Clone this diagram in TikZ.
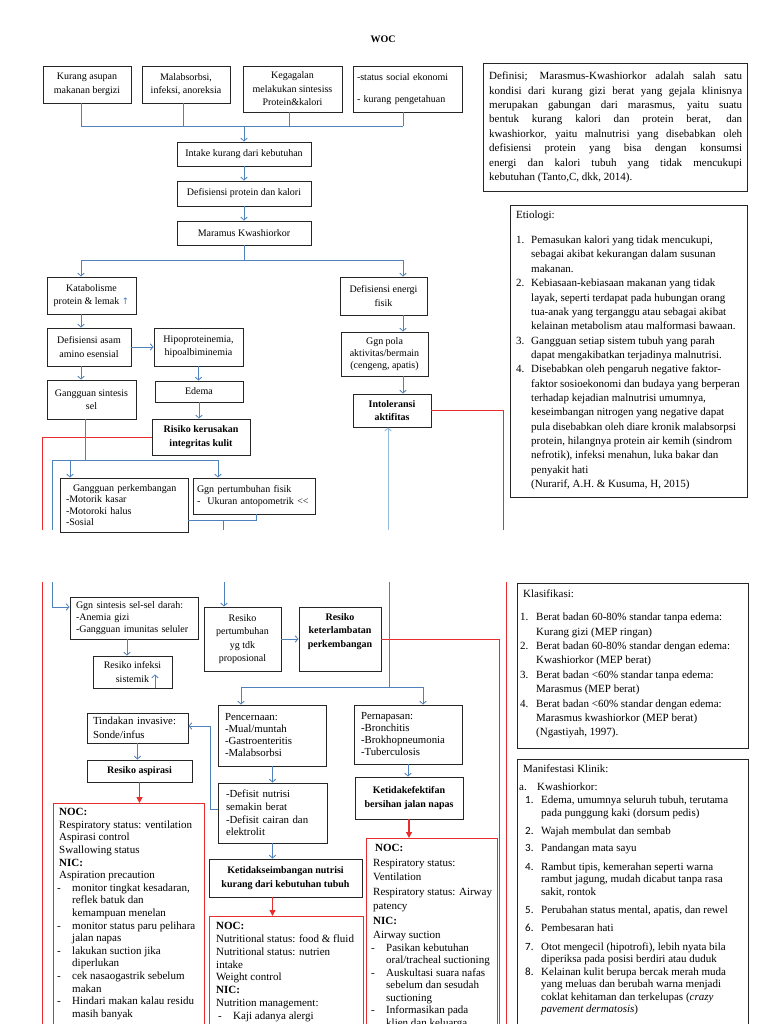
\documentclass[tikz,border=0pt]{standalone}
\usepackage{fontspec}
\setmainfont{Liberation Serif}
\newfontfamily\calib{Carlito}
\newfontfamily\dejav{DejaVu Sans}
\usetikzlibrary{arrows.meta}
\definecolor{conblue}{RGB}{79,129,189}
\definecolor{lblue}{RGB}{150,185,222}
\definecolor{redc}{RGB}{232,45,45}
\newcommand\nmb[1]{\makebox[15pt][l]{#1}}
\newcommand\nmk[1]{\makebox[16pt][l]{#1}}
\newcommand\dsh{\makebox[15pt][l]{-}}
\newcommand\fsf{\makebox[253pt][s]}
\begin{document}
\begin{tikzpicture}[x=1pt,y=-1pt,
  fb/.style={draw=black!85, line width=0.8pt, inner sep=0pt, align=center, font=\fontsize{10}{13.5}\selectfont},
  fbb/.style={fb, font=\fontsize{10}{13.5}\selectfont\bfseries},
  fbl/.style={draw=black!85, line width=0.8pt, inner ysep=0pt, align=left},
  kbox/.style={draw=black!85, line width=0.8pt, inner sep=0pt, anchor=north west},
  rbox/.style={draw=redc, line width=0.9pt, inner sep=0pt, anchor=north west},
  txt/.style={inner sep=0pt, anchor=north west},
  ttl/.style={inner sep=0pt, anchor=base west, font=\fontsize{11}{14.4}\selectfont},
  bl/.style={draw=conblue, line width=0.8pt},
  ba/.style={bl, -{Straight Barb[length=3pt,width=6.5pt]}},
  lba/.style={draw=lblue, line width=0.9pt, -{Straight Barb[length=3pt,width=6.5pt]}},
  rl/.style={draw=redc, line width=0.9pt},
  ra/.style={draw=redc, line width=1.3pt, -{Triangle[length=6pt,width=6pt]}}
]
\useasboundingbox (0,0) rectangle (768,1024);
\fill[white] (0,0) rectangle (768,1024);
\clip (0,0) rectangle (768,1024);

% ---------------- page 1 ----------------
\node[inner sep=0pt, font=\fontsize{10}{12}\selectfont\bfseries] (woc) at (383,39) {WOC};

\node[fb, minimum width=88, minimum height=37] (b1) at (87,84.5) {Kurang asupan\\makanan bergizi};
\node[fb, minimum width=88, minimum height=37] (b2) at (186,84.5) {Malabsorbsi,\\infeksi, anoreksia};
\node[fb, minimum width=99, minimum height=46] (b3) at (292.5,89) {Kegagalan\\melakukan sintesiss\\Protein\&kalori};
\node[fbl, text width=101, inner xsep=4, minimum height=46, font=\fontsize{10}{13.5}\selectfont] (b4) at (407.5,89) {-status social ekonomi\\[8pt]- kurang pengetahuan};

\node[fb, minimum width=134, minimum height=24] (intake) at (244,154) {Intake kurang dari kebutuhan};
\node[fb, minimum width=134, minimum height=25] (defpk) at (244,193.5) {Defisiensi protein dan kalori};
\node[fb, minimum width=134, minimum height=24] (maram) at (244,233) {Maramus Kwashiorkor};

\node[fb, minimum width=89, minimum height=37] (katab) at (91.5,295.5) {Katabolisme\\protein \& lemak {\color{conblue}\dejav\fontsize{9}{10}\selectfont ↑}};
\node[fb, minimum width=87, minimum height=38] (defen) at (383.5,296) {Defisiensi energi\\fisik};
\node[fb, minimum width=84, minimum height=38] (asam) at (89,347) {Defisiensi asam\\amino esensial};
\node[fb, minimum width=89, minimum height=38] (hipo) at (198.5,347) {Hipoproteinemia,\\hipoalbiminemia};
\node[fb, minimum width=89, minimum height=39] (gss) at (91.5,399.5) {Gangguan sintesis\\sel};
\node[fb, minimum width=88, minimum height=21] (edema) at (199,391.5) {Edema};
\node[fbb, minimum width=98, minimum height=36] (risk) at (201,437) {Risiko kerusakan\\integritas kulit};
\node[fb, minimum width=87, minimum height=44, font=\fontsize{10}{12}\selectfont] (ggnpola) at (384.5,354) {Ggn pola\\aktivitas/bermain\\(cengeng, apatis)};
\node[fbb, minimum width=78, minimum height=33] (intol) at (392,410.5) {Intoleransi\\aktifitas};
\node[fbl, text width=116, inner xsep=6, minimum height=54, font=\fontsize{10}{11.5}\selectfont] (gp) at (124,505) {\hspace*{7pt}Gangguan perkembangan\\-Motorik kasar\\-Motoroki halus\\-Sosial};
\node[fbl, text width=114, inner xsep=4, minimum height=36, font=\fontsize{10}{11.5}\selectfont] (pf) at (254,496) {Ggn pertumbuhan fisik\\-\hspace{7pt}Ukuran antopometrik <\kern0pt<};

% connectors page 1
\coordinate (j1) at (81,126); \coordinate (j2) at (183,126);
\coordinate (j3) at (289,126); \coordinate (j4) at (403,126);
\draw[bl] (b1.south -| j1) -- (j1);
\draw[bl] (b2.south -| j2) -- (j2);
\draw[bl] (b3.south -| j3) -- (j3);
\draw[bl] (b4.south -| j4) -- (j4);
\draw[bl] (j1) -- (j4);
\draw[ba] (intake.north |- j1) -- (intake.north);
\draw[ba] (intake.south) -- (defpk.north);
\draw[ba] (defpk.south) -- (maram.north);
\coordinate (k1) at (81,260); \coordinate (k2) at (403,260);
\draw[bl] (maram.south) -- (maram.south |- k1);
\draw[bl] (k1) -- (k2);
\draw[ba] (k1) -- (k1 |- katab.north);
\draw[ba] (k2) -- (k2 |- defen.north);
\draw[ba] (katab.south -| k1) -- (asam.north -| k1);
\draw[ba] (asam.east) -- (hipo.west);
\draw[ba] (asam.south -| k1) -- (gss.north -| k1);
\draw[ba] (hipo.south) -- (hipo.south |- edema.north);
\draw[ba] (edema.south) -- (edema.south |- risk.north);
\draw[ba] (defen.south -| k2) -- (ggnpola.north -| k2);
\draw[ba] (ggnpola.south -| k2) -- (intol.north -| k2);
\coordinate (p1e) at (388,530);
\draw[lba] (p1e) -- (p1e |- intol.south);
\coordinate (r1c) at (503,530);
\draw[rl] (intol.east) -| (r1c);
\coordinate (r2c) at (42,530);
\draw[rl] (risk.west) -| (r2c);
\coordinate (g1) at (85,460); \coordinate (g0) at (52,460);
\coordinate (g2) at (218,460); \coordinate (g3) at (70,460);
\coordinate (g0e) at (52,530);
\draw[bl] (gss.south -| g1) -- (g1);
\draw[bl] (g0) -- (g2);
\draw[bl] (g0) -- (g0e);
\draw[ba] (g3) -- (g3 |- gp.north);
\draw[ba] (g2) -- (g2 |- pf.north);
\coordinate (h1) at (256,520); \coordinate (h2) at (223,520); \coordinate (h2e) at (223,530);
\draw[bl] (pf.south -| h1) -- (h1) -- (h1 -| gp.east);
\draw[bl] (h2) -- (h2e);

% right column page 1
\node[kbox, minimum width=264, minimum height=128] (defbox) at (483,63) {};
\node[txt, font=\fontsize{11}{14.4}\selectfont] (deftxt) at (489,69.4) {\begin{tabular}{@{}l@{}}
\fsf{Definisi; Marasmus-Kwashiorkor adalah salah satu}\\
\fsf{kondisi dari kurang gizi berat yang gejala klinisnya}\\
\fsf{merupakan gabungan dari marasmus, yaitu suatu}\\
\fsf{bentuk kurang kalori dan protein berat, dan}\\
\fsf{kwashiorkor, yaitu malnutrisi yang disebabkan oleh}\\
\fsf{defisiensi protein yang bisa dengan konsumsi}\\
\fsf{energi dan kalori tubuh yang tidak mencukupi}\\
kebutuhan (Tanto,C, dkk, 2014).
\end{tabular}};

\node[kbox, minimum width=237, minimum height=292] (etibox) at (510,205) {};
\node[ttl] (etitl) at (516,218.5) {Etiologi:};
\node[txt, font=\fontsize{11}{14.35}\selectfont] (etilist) at (516,233.4) {\begin{tabular}{@{}l@{}l@{}}
\nmb{1.} & Pemasukan kalori yang tidak mencukupi,\\
 & sebagai akibat kekurangan dalam susunan\\
 & makanan.\\
\nmb{2.} & Kebiasaan-kebiasaan makanan yang tidak\\
 & layak, seperti terdapat pada hubungan orang\\
 & tua-anak yang terganggu atau sebagai akibat\\
 & kelainan metabolism atau malformasi bawaan.\\
\nmb{3.} & Gangguan setiap sistem tubuh yang parah\\
 & dapat mengakibatkan terjadinya malnutrisi.\\
\nmb{4.} & Disebabkan oleh pengaruh negative faktor-\\
 & faktor sosioekonomi dan budaya yang berperan\\
 & terhadap kejadian malnutrisi umumnya,\\
 & keseimbangan nitrogen yang negative dapat\\
 & pula disebabkan oleh diare kronik malabsorpsi\\
 & protein, hilangnya protein air kemih (sindrom\\
 & nefrotik), infeksi menahun, luka bakar dan\\
 & penyakit hati\\
 & (Nurarif, A.H. \& Kusuma, H, 2015)
\end{tabular}};

% ---------------- page 2 ----------------
\node[fbl, text width=116, inner xsep=6, minimum height=42, font=\fontsize{10}{12}\selectfont] (ggnsd) at (134,618) {Ggn sintesis sel-sel darah:\\-Anemia gizi\\-Gangguan imunitas seluler};
\node[fb, minimum width=79, minimum height=32] (rinf) at (132.5,672) {Resiko infeksi\\sistemik};
\node[fb, minimum width=77, minimum height=64] (rpt) at (242.5,639) {Resiko\\pertumbuhan\\yg tdk\\proposional};
\node[fbb, minimum width=82, minimum height=64] (rkp) at (340,639) {Resiko\\keterlambatan\\perkembangan\\\strut};
\node[fbl, text width=94, inner xsep=7, minimum height=61, font=\fontsize{10.8}{12}\selectfont] (penc) at (272,735.5) {Pencernaan:\\-Mual/muntah\\-Gastroenteritis\\-Malabsorbsi};
\node[fbl, text width=94, inner xsep=7, minimum height=59, font=\fontsize{10.8}{12}\selectfont] (pern) at (408,734.5) {Pernapasan:\\-Bronchitis\\-Brokhopneumonia\\-Tuberculosis};
\node[fbl, text width=89, inner xsep=6, minimum height=30, font=\fontsize{10.8}{14}\selectfont] (tind) at (137.5,728) {Tindakan invasive:\\Sonde/infus};
\node[fbb, minimum width=105, minimum height=22] (rasp) at (139.5,771) {Resiko aspirasi};
\node[fbl, text width=93, inner xsep=8, minimum height=60, font=\fontsize{10.8}{12.7}\selectfont] (defis) at (272.5,813) {-Defisit nutrisi\\semakin berat\\-Defisit cairan dan\\elektrolit};
\node[fbb, minimum width=108, minimum height=42] (ketef) at (409,798) {Ketidakefektifan\\bersihan jalan napas};
\node[fbb, minimum width=153, minimum height=38] (ktsb) at (285.5,878) {Ketidakseimbangan nutrisi\\kurang dari kebutuhan tubuh};

\node[rbox, minimum width=151, minimum height=260] (nocA) at (53,803) {};
\node[rbox, minimum width=154, minimum height=200] (nocB) at (209,916) {};
\node[rbox, minimum width=131, minimum height=250] (nocC) at (366,838) {};

\node[txt, font=\fontsize{11}{12.6}\selectfont] (nocAt) at (57,806.7) {\begin{tabular}{@{}l@{}}
\hspace*{2pt}\textbf{NOC:}\\
\hspace*{2pt}Respiratory status: ventilation\\
\hspace*{2pt}Aspirasi control\\
\hspace*{2pt}Swallowing status\\
\hspace*{2pt}\textbf{NIC:}\\
\hspace*{2pt}Aspiration precaution\\
\dsh monitor tingkat kesadaran,\\
\hspace*{15pt}reflek batuk dan\\
\hspace*{15pt}kemampuan menelan\\
\dsh monitor status paru pelihara\\
\hspace*{15pt}jalan napas\\
\dsh lakukan suction jika\\
\hspace*{15pt}diperlukan\\
\dsh cek nasaogastrik sebelum\\
\hspace*{15pt}makan\\
\dsh Hindari makan kalau residu\\
\hspace*{15pt}masih banyak
\end{tabular}};

\node[txt, font=\fontsize{11}{12.8}\selectfont] (nocBt) at (216,920.5) {\begin{tabular}{@{}l@{}}
\textbf{NOC:}\\
Nutritional status: food \& fluid\\
Nutritional status: nutrien\\
intake\\
Weight control\\
\textbf{NIC:}\\
Nutrition management:\\
\hspace*{2pt}\dsh Kaji adanya alergi
\end{tabular}};

\node[txt, font=\fontsize{11}{12.5}\selectfont] (nocCt) at (373,842.75) {\begin{tabular}{@{}l@{}}
\hspace*{2pt}\textbf{NOC:}\\[2pt]
Respiratory status:\\[2pt]
Ventilation\\[2pt]
Respiratory status: Airway\\[2pt]
patency\\[2pt]
\textbf{NIC:}\\[2pt]
Airway suction\\
\hspace*{-2pt}\dsh Pasikan kebutuhan\\
\hspace*{13pt}oral/tracheal suctioning\\
\hspace*{-2pt}\dsh Auskultasi suara nafas\\
\hspace*{13pt}sebelum dan sesudah\\
\hspace*{13pt}suctioning\\
\hspace*{-2pt}\dsh Informasikan pada\\
\hspace*{13pt}klien dan keluarga
\end{tabular}};

% right column page 2
\node[kbox, minimum width=231, minimum height=165] (klabox) at (517,583) {};
\node[ttl] (klatl) at (523,597.5) {Klasifikasi:};
\node[txt, font=\fontsize{11}{14.4}\selectfont] (klalist) at (520,610.4) {\begin{tabular}{@{}l@{}l@{}}
\nmk{1.} & Berat badan 60-80\% standar tanpa edema:\\
 & Kurang gizi (MEP ringan)\\
\nmk{2.} & Berat badan 60-80\% standar dengan edema:\\
 & Kwashiorkor (MEP berat)\\
\nmk{3.} & Berat badan <60\% standar tanpa edema:\\
 & Marasmus (MEP berat)\\
\nmk{4.} & Berat badan <60\% standar dengan edema:\\
 & Marasmus kwashiorkor (MEP berat)\\
 & (Ngastiyah, 1997).
\end{tabular}};

\node[kbox, minimum width=231, minimum height=300] (manbox) at (517,759) {};
\node[ttl] (mantl) at (523,772.5) {Manifestasi Klinik:};
\node[ttl] (manA) at (519,790.5) {\makebox[18pt][l]{a.}Kwashiorkor:};
\node[txt, font=\fontsize{11}{12.5}\selectfont] (manlist) at (525,794.75) {\begin{tabular}{@{}l@{}l@{}}
\nmk{\calib 1.} & Edema, umumnya seluruh tubuh, terutama\\
 & pada punggung kaki (dorsum pedis)\\[5.5pt]
\nmk{\calib 2.} & Wajah membulat dan sembab\\[4.5pt]
\nmk{\calib 3.} & Pandangan mata sayu\\[6.5pt]
\nmk{\calib 4.} & Rambut tipis, kemerahan seperti warna\\
 & rambut jagung, mudah dicabut tanpa rasa\\
 & sakit, rontok\\[5.5pt]
\nmk{\calib 5.} & Perubahan status mental, apatis, dan rewel\\[5.5pt]
\nmk{\calib 6.} & Pembesaran hati\\[6.5pt]
\nmk{\calib 7.} & Otot mengecil (hipotrofi), lebih nyata bila\\
 & diperiksa pada posisi berdiri atau duduk\\
\nmk{\calib 8.} & Kelainan kulit berupa bercak merah muda\\
 & yang meluas dan berubah warna menjadi\\
 & coklat kehitaman dan terkelupas (\textit{crazy}\\
 & \textit{pavement dermatosis})
\end{tabular}};

% connectors page 2
\coordinate (q0) at (42,582); \coordinate (q0e) at (42,1030);
\draw[rl] (q0) -- (q0e);
\coordinate (q1) at (52,582); \coordinate (q1b) at (52,607);
\draw[ba] (q1) -- (q1b) -- (q1b -| ggnsd.west);
\coordinate (c127) at (127,650);
\draw[ba] (ggnsd.south -| c127) -- (rinf.north -| c127);
\coordinate (c155) at (155,680);
\draw[ba] (rinf.south -| c155) -- ++(0,-14);
\coordinate (q2) at (224,582);
\draw[ba] (q2) -- (q2 |- rpt.north);
\draw[ba] (rpt.east) -- (rkp.west);
\coordinate (q3) at (499,1030);
\draw[rl] (rkp.east) -| (q3);
\coordinate (q4) at (506,582); \coordinate (q4e) at (506,1030);
\draw[rl] (q4) -- (q4e);
\coordinate (q5) at (389,582); \coordinate (q5b) at (389,687);
\coordinate (q6) at (241,687); \coordinate (q7) at (423,687);
\draw[bl] (q5) -- (q5b);
\draw[bl] (q6) -- (q7);
\draw[ba] (q6) -- (q6 |- penc.north);
\draw[ba] (q7) -- (q7 |- pern.north);
\draw[ba] (penc.south -| defis.north) -- (defis.north);
\draw[ba] (pern.south) -- (pern.south |- ketef.north);
\draw[ba] (defis.south) -- (defis.south |- ktsb.north);
\coordinate (t1) at (210,809); \coordinate (t2) at (210,726);
\draw[ba] (defis.west |- t1) -- (t1) -- (t2) -- (t2 -| tind.east);
\draw[ba] (tind.south) -- (tind.south |- rasp.north);
\draw[ra] (rasp.south) -- (rasp.south |- nocA.north);
\draw[ra] (ktsb.south -| defis.south) -- (nocB.north -| defis.south);
\draw[ra] (ketef.south) -- (ketef.south |- nocC.north);
\end{tikzpicture}
\end{document}
